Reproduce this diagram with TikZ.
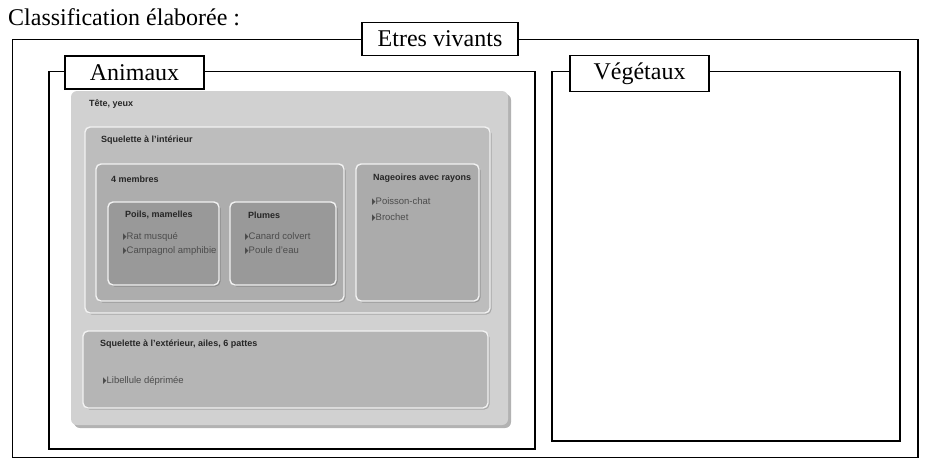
\documentclass[tikz,border=0pt]{standalone}
\usepackage{fontspec}
\setmainfont{Liberation Serif}
\setsansfont{Liberation Sans}
\newfontfamily\symbfont{DejaVu Sans}
\usetikzlibrary{shadows}

\definecolor{fondclair}{gray}{0.82}
\definecolor{ombre}{gray}{0.70}
\definecolor{fondint}{gray}{0.74}
\definecolor{fondmembres}{gray}{0.68}
\definecolor{fondclasse}{gray}{0.60}
\definecolor{fondnageoires}{gray}{0.67}
\definecolor{fondext}{gray}{0.71}
\definecolor{texteclair}{gray}{0.30}

\newcommand{\puce}{\raisebox{0.2pt}{\scalebox{0.5}[1]{\symbfont\fontsize{9}{9}\selectfont ▶}}}

\tikzset{
	cadre/.style={line width=1.2pt},
	etiquette/.style={draw, fill=white, line width=1.2pt, inner sep=0pt, font=\fontsize{24}{24}\selectfont},
	boite/.style={rounded corners=5pt, draw=white!95!black, line width=1.4pt,
		drop shadow={shadow xshift=1.5pt, shadow yshift=-1.5pt, fill=black, opacity=0.2}},
	titre/.style={anchor=west, inner sep=0pt, text=black!85, font=\sffamily\bfseries\fontsize{9}{10}\selectfont},
	espece/.style={anchor=west, inner sep=0pt, text=texteclair, font=\sffamily\fontsize{9.5}{10}\selectfont}
}

\begin{document}
\begin{tikzpicture}[x=1pt, y=-1pt]
\useasboundingbox (0, 0) rectangle (933, 475);

\node[anchor=base west, inner sep=0pt, font=\fontsize{24}{24}\selectfont] (titre) at (8, 25) {Classification élaborée :};

% grands cadres
\draw[cadre] (12.5, 39.5) rectangle (918, 457.5);
\draw[cadre] (49, 71.5) rectangle (535, 449);
\draw[cadre] (552, 71.7) rectangle (900, 441);

\node[etiquette, minimum width=156, minimum height=33] (vivants) at (440, 38.7) {Etres vivants};
\node[etiquette, minimum width=139, minimum height=33] (animaux) at (134.5, 72.5) {Animaux};
\node[etiquette, minimum width=139, minimum height=36] (vegetaux) at (639.5, 73.7) {Végétaux};

% planche grise
\fill[ombre, rounded corners=6pt] (74, 94) rectangle (511, 428);
\fill[fondclair, rounded corners=6pt] (71, 91) rectangle (508, 425);
\node[titre] (tete) at (89, 104) {Tête, yeux};

\draw[boite, fill=fondint] (85, 127) rectangle (490, 313);
\node[titre] (interieur) at (101, 140) {Squelette à l'intérieur};

\draw[boite, fill=fondmembres] (96, 164) rectangle (344, 301);
\node[titre] (membres) at (111, 179) {4 membres};

\draw[boite, fill=fondclasse] (108, 202) rectangle (219, 285);
\node[titre] (poils) at (125, 215) {Poils, mamelles};
\foreach \nom/\y [count=\i] in {Rat musqué/237, Campagnol amphibie/251} {
	\node[espece] (poils\i) at (123, \y) {\puce\nom};
}

\draw[boite, fill=fondclasse] (230, 202) rectangle (336, 285);
\node[titre] (plumes) at (248, 215) {Plumes};
\foreach \nom/\y [count=\i] in {Canard colvert/237, Poule d'eau/251} {
	\node[espece] (plumes\i) at (245, \y) {\puce\nom};
}

\draw[boite, fill=fondnageoires] (356, 164) rectangle (479, 301);
\node[titre] (nageoires) at (373, 178) {Nageoires avec rayons};
\foreach \nom/\y [count=\i] in {Poisson-chat/202, Brochet/218} {
	\node[espece] (nageoires\i) at (372, \y) {\puce\nom};
}

\draw[boite, fill=fondext] (83, 331) rectangle (488, 408);
\node[titre] (exterieur) at (100, 344) {Squelette à l'extérieur, ailes, 6 pattes};
\node[espece] (libellule) at (103, 381) {\puce Libellule déprimée};
\end{tikzpicture}
\end{document}
